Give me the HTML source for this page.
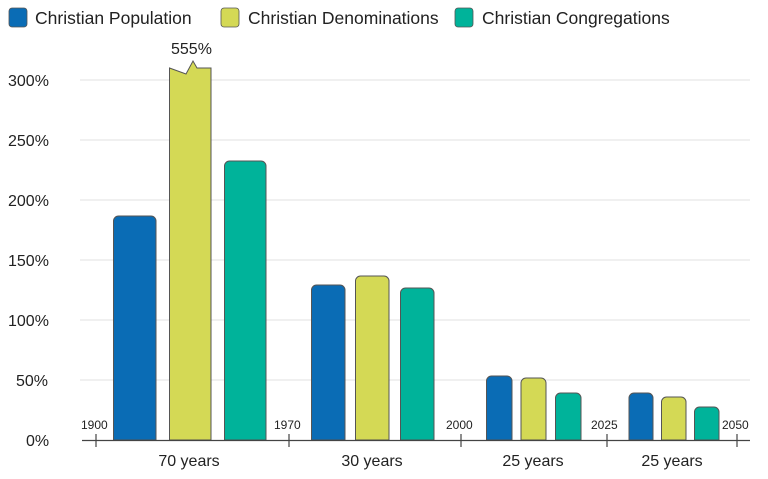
<!DOCTYPE html>
<html><head><meta charset="utf-8"><style>
html,body{margin:0;padding:0;background:#fff;width:768px;height:479px;overflow:hidden}
svg text{font-family:"Liberation Sans",sans-serif;fill:#222}
</style></head><body>
<svg width="768" height="479" viewBox="0 0 768 479" xmlns="http://www.w3.org/2000/svg">
<g stroke="#e6e6e6" stroke-width="1.2">
<line x1="80" x2="750" y1="80" y2="80"/><line x1="80" x2="750" y1="140" y2="140"/>
<line x1="80" x2="750" y1="200" y2="200"/><line x1="80" x2="750" y1="260" y2="260"/>
<line x1="80" x2="750" y1="320" y2="320"/><line x1="80" x2="750" y1="380" y2="380"/>
</g>
<g font-size="16">
<text x="8" y="86">300%</text><text x="8" y="146">250%</text><text x="8" y="206">200%</text>
<text x="8" y="266">150%</text><text x="8" y="326">100%</text><text x="16" y="386">50%</text>
<text x="26" y="446">0%</text>
</g>
<!-- legend -->
<rect x="9" y="8" width="18" height="19" rx="3" fill="#0a6cb5" stroke="#555" stroke-width="0.8"/>
<text x="35" y="24" font-size="17.5">Christian Population</text>
<rect x="221" y="8" width="18" height="19" rx="3" fill="#d4d955" stroke="#555" stroke-width="0.8"/>
<text x="248" y="24" font-size="17.5">Christian Denominations</text>
<rect x="455" y="8" width="18" height="19" rx="3" fill="#00b39a" stroke="#555" stroke-width="0.8"/>
<text x="482" y="24" font-size="17.5">Christian Congregations</text>
<g stroke="#555" stroke-width="1">
<path d="M113.5,440 V221 a5,5 0 0 1 5,-5 H151 a5,5 0 0 1 5,5 V440Z" fill="#0a6cb5"/>
<path d="M169.5,440 V68 L186,74 L193,61 L197,68 H211 V440Z" fill="#d4d955"/>
<path d="M224.5,440 V166 a5,5 0 0 1 5,-5 H261 a5,5 0 0 1 5,5 V440Z" fill="#00b39a"/>
<path d="M311.5,440 V290 a5,5 0 0 1 5,-5 H340 a5,5 0 0 1 5,5 V440Z" fill="#0a6cb5"/>
<path d="M355.5,440 V281 a5,5 0 0 1 5,-5 H384 a5,5 0 0 1 5,5 V440Z" fill="#d4d955"/>
<path d="M400.5,440 V293 a5,5 0 0 1 5,-5 H429 a5,5 0 0 1 5,5 V440Z" fill="#00b39a"/>
<path d="M486.5,440 V381 a5,5 0 0 1 5,-5 H507 a5,5 0 0 1 5,5 V440Z" fill="#0a6cb5"/>
<path d="M521,440 V383 a5,5 0 0 1 5,-5 H541 a5,5 0 0 1 5,5 V440Z" fill="#d4d955"/>
<path d="M555.5,440 V398 a5,5 0 0 1 5,-5 H576 a5,5 0 0 1 5,5 V440Z" fill="#00b39a"/>
<path d="M629,440 V398 a5,5 0 0 1 5,-5 H648 a5,5 0 0 1 5,5 V440Z" fill="#0a6cb5"/>
<path d="M661.5,440 V402 a5,5 0 0 1 5,-5 H681 a5,5 0 0 1 5,5 V440Z" fill="#d4d955"/>
<path d="M694.5,440 V412 a5,5 0 0 1 5,-5 H714 a5,5 0 0 1 5,5 V440Z" fill="#00b39a"/>
</g>
<text x="171" y="54" font-size="16">555%</text>
<g stroke="#444" stroke-width="1.2">
<line x1="82" x2="750" y1="440.5" y2="440.5"/>
<line x1="96" x2="96" y1="434" y2="447"/><line x1="289" x2="289" y1="434" y2="447"/>
<line x1="461" x2="461" y1="434" y2="447"/><line x1="607" x2="607" y1="434" y2="447"/>
<line x1="737" x2="737" y1="434" y2="447"/>
</g>
<g font-size="12">
<text x="81" y="429">1900</text><text x="274" y="429">1970</text><text x="446" y="429">2000</text>
<text x="591" y="429">2025</text><text x="722" y="429">2050</text>
</g>
<g font-size="16" text-anchor="middle">
<text x="189" y="466">70 years</text><text x="372" y="466">30 years</text>
<text x="533" y="466">25 years</text><text x="672" y="466">25 years</text>
</g>
</svg>
</body></html>
